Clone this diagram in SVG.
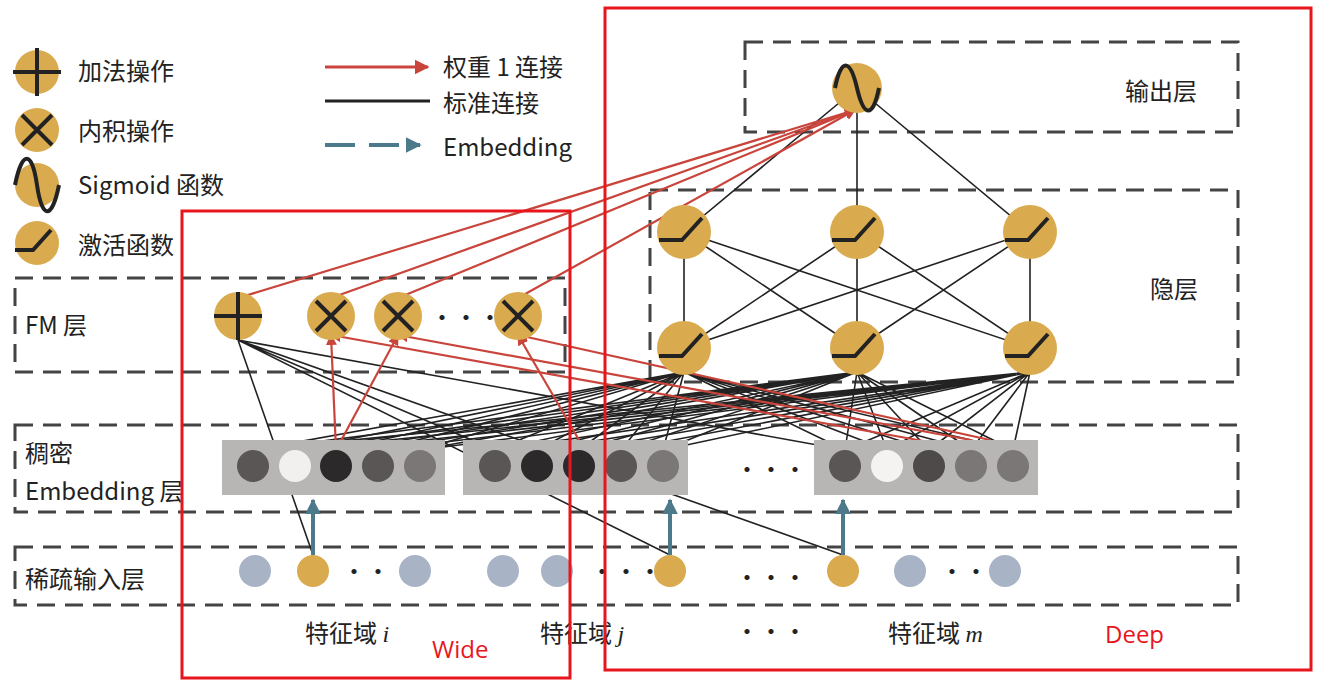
<svg xmlns="http://www.w3.org/2000/svg" width="1329" height="684" viewBox="0 0 1329 684">
<defs>
<marker id="ar" viewBox="0 0 10 10" refX="9" refY="5" markerWidth="5" markerHeight="5" orient="auto-start-reverse"><path d="M0,0L10,5L0,10z" fill="#c9453c"/></marker>
<marker id="ab" viewBox="0 0 10 10" refX="9" refY="5" markerWidth="4" markerHeight="4" orient="auto"><path d="M0,0L10,5L0,10z" fill="#4d7a8a"/></marker>
</defs>
<style>
text{font-family:"Noto Sans CJK SC","Liberation Sans",sans-serif;fill:#222;font-size:24px}
.box{fill:none;stroke:#444;stroke-width:3;stroke-dasharray:18,10}
.g{fill:#d9aa4e}
.sym{stroke:#222;stroke-width:4;fill:none}
.k{stroke:#222;stroke-width:1.6;fill:none}
.r{stroke:#c9453c;stroke-width:2.2;fill:none;marker-end:url(#ar)}
.b{stroke:#4d7a8a;stroke-width:4;fill:none;marker-end:url(#ab)}
.sp{fill:#a8b4c6}
.gr{fill:#b8b6b5}
</style>
<rect width="1329" height="684" fill="#fff"/>
<g id="legend">
<circle class="g" cx="37" cy="72" r="22"/><path class="sym" d="M37,48V96M13,72H61"/><text x="78" y="80">加法操作</text>
<circle class="g" cx="37" cy="130" r="22"/><path class="sym" d="M22,115L52,145M52,115L22,145"/><text x="78" y="140">内积操作</text>
<circle class="g" cx="37" cy="185" r="22"/><path class="sym" d="M15,185C22,150 32,150 37,185S52,220 59,185"/><text x="78" y="194">Sigmoid 函数</text>
<circle class="g" cx="37" cy="243" r="22"/><path class="sym" d="M15,250H33L51,230"/><text x="78" y="254">激活函数</text>
<path d="M325,67H428" class="r" style="stroke-width:3"/><text x="443" y="76">权重 1 连接</text>
<path d="M325,101H430" class="k" style="stroke-width:3"/><text x="443" y="112">标准连接</text>
<path d="M325,145H420" stroke="#4d7a8a" stroke-width="4" stroke-dasharray="30,14" fill="none" marker-end="url(#ab)"/><text x="443" y="156">Embedding</text>
</g>
<g id="layers">
<rect class="box" x="745" y="42" width="493" height="90"/><text x="1125" y="100">输出层</text>
<rect class="box" x="650" y="190" width="588" height="192"/><text x="1150" y="298">隐层</text>
<rect class="box" x="15" y="278" width="550" height="94"/><text x="25" y="334">FM 层</text>
<rect class="box" x="15" y="425" width="1223" height="87"/><text x="25" y="462">稠密</text><text x="25" y="500">Embedding 层</text>
<rect class="box" x="15" y="547" width="1223" height="58"/><text x="25" y="588">稀疏输入层</text>
</g>
<g id="connectors">
<g class="k">
<path d="M857,88L684,232M857,88V232M857,88L1030,232"/>
<path d="M684,232V348M684,232L857,348M684,232L1030,348M857,232L684,348M857,232V348M857,232L1030,348M1030,232L684,348M1030,232L857,348M1030,232V348"/>
<path d="M684,372L253,450M684,372L295,450M684,372L336,450M684,372L378,450M684,372L420,450M684,372L495,450M684,372L537,450M684,372L579,450M684,372L621,450M684,372L663,450M684,372L845,450M684,372L887,450M684,372L929,450M684,372L971,450M684,372L1013,450"/>
<path d="M857,372L253,450M857,372L295,450M857,372L336,450M857,372L378,450M857,372L420,450M857,372L495,450M857,372L537,450M857,372L579,450M857,372L621,450M857,372L663,450M857,372L845,450M857,372L887,450M857,372L929,450M857,372L971,450M857,372L1013,450"/>
<path d="M1030,372L253,450M1030,372L295,450M1030,372L336,450M1030,372L378,450M1030,372L420,450M1030,372L495,450M1030,372L537,450M1030,372L579,450M1030,372L621,450M1030,372L663,450M1030,372L845,450M1030,372L887,450M1030,372L929,450M1030,372L971,450M1030,372L1013,450"/>
<path d="M238,340L313,555M238,340L670,555M238,340L843,555M238,340L495,450M238,340L845,450"/>
</g>
<path class="r" d="M336,450L331,335"/><path class="r" d="M336,450L398,335"/>
<path class="r" d="M579,440L518,335"/>
<path class="r" d="M929,442L331,335"/><path class="r" d="M971,440L398,335"/><path class="r" d="M990,440L518,335"/>
<path class="r" d="M238,298L855,110"/><path class="r" d="M331,298L855,110"/><path class="r" d="M398,298L855,110"/><path class="r" d="M518,298L855,110"/>
<path class="b" d="M313,555V500"/><path class="b" d="M670,555V500"/><path class="b" d="M843,555V500"/>
</g>
<g id="output"><circle class="g" cx="857" cy="88" r="25"/><path class="sym" d="M835,88C841,58 850,58 857,88S873,118 879,88"/></g>
<g id="hidden">
<circle class="g" cx="684" cy="232" r="27"/><circle class="g" cx="857" cy="232" r="27"/><circle class="g" cx="1030" cy="232" r="27"/>
<circle class="g" cx="684" cy="348" r="27"/><circle class="g" cx="857" cy="348" r="27"/><circle class="g" cx="1030" cy="348" r="27"/>
<path class="sym" d="M659,240H682L702,218M832,240H855L875,218M1005,240H1028L1048,218M659,356H682L702,334M832,356H855L875,334M1005,356H1028L1048,334"/>
</g>
<g id="fm">
<circle class="g" cx="238" cy="316" r="24"/><path class="sym" d="M238,292V340M214,316H262"/>
<circle class="g" cx="331" cy="316" r="24"/><path class="sym" d="M316,301L346,331M346,301L316,331"/>
<circle class="g" cx="398" cy="316" r="24"/><path class="sym" d="M383,301L413,331M413,301L383,331"/>
<circle class="g" cx="518" cy="316" r="24"/><path class="sym" d="M503,301L533,331M533,301L503,331"/>
<text x="430" y="326">···</text>
</g>
<g id="embedding">
<rect class="gr" x="222" y="440" width="223" height="55"/><rect class="gr" x="463" y="440" width="225" height="55"/><rect class="gr" x="814" y="440" width="224" height="55"/>
<circle cx="253" cy="466" r="16" fill="#5a5655"/><circle cx="295" cy="466" r="16" fill="#f2f0ee"/><circle cx="336" cy="466" r="16" fill="#2b2929"/><circle cx="378" cy="466" r="16" fill="#5a5655"/><circle cx="420" cy="466" r="16" fill="#7a7776"/>
<circle cx="495" cy="466" r="16" fill="#5a5655"/><circle cx="537" cy="466" r="16" fill="#2b2929"/><circle cx="579" cy="466" r="16" fill="#2b2929"/><circle cx="621" cy="466" r="16" fill="#5a5655"/><circle cx="663" cy="466" r="16" fill="#7a7776"/>
<circle cx="845" cy="466" r="16" fill="#5a5655"/><circle cx="887" cy="466" r="16" fill="#f5f3f2"/><circle cx="929" cy="466" r="16" fill="#4e4a49"/><circle cx="971" cy="466" r="16" fill="#7a7776"/><circle cx="1013" cy="466" r="16" fill="#7a7776"/>
<text x="735" y="478">···</text>
</g>
<g id="sparse">
<circle class="sp" cx="255" cy="571" r="16"/><circle class="g" cx="313" cy="571" r="16"/><text x="342" y="580">···</text><circle class="sp" cx="415" cy="571" r="16"/>
<circle class="sp" cx="503" cy="571" r="16"/><circle class="sp" cx="557" cy="571" r="16"/><text x="590" y="580">···</text><circle class="g" cx="670" cy="571" r="16"/>
<text x="735" y="586">···</text><circle class="g" cx="843" cy="571" r="16"/>
<circle class="sp" cx="910" cy="571" r="16"/><text x="940" y="580">···</text><circle class="sp" cx="1005" cy="571" r="16"/>
</g>
<g id="labels">
<text x="305" y="642" font-size="22">特征域 <tspan font-style="italic" font-family="Liberation Serif">i</tspan></text>
<text x="540" y="642" font-size="22">特征域 <tspan font-style="italic" font-family="Liberation Serif">j</tspan></text>
<text x="735" y="640">···</text>
<text x="888" y="642" font-size="22">特征域 <tspan font-style="italic" font-family="Liberation Serif">m</tspan></text>
</g>
<g id="regions" fill="none" stroke="#e8161c" stroke-width="3">
<rect x="182" y="211" width="388" height="467"/><rect x="605" y="8" width="706" height="662"/>
</g>
<text x="432" y="658" font-size="36" style="fill:#e8161c;font-family:'Open Sans','Liberation Sans',sans-serif">Wide</text>
<text x="1105" y="643" font-size="36" style="fill:#e8161c;font-family:'Open Sans','Liberation Sans',sans-serif">Deep</text>
</svg>
